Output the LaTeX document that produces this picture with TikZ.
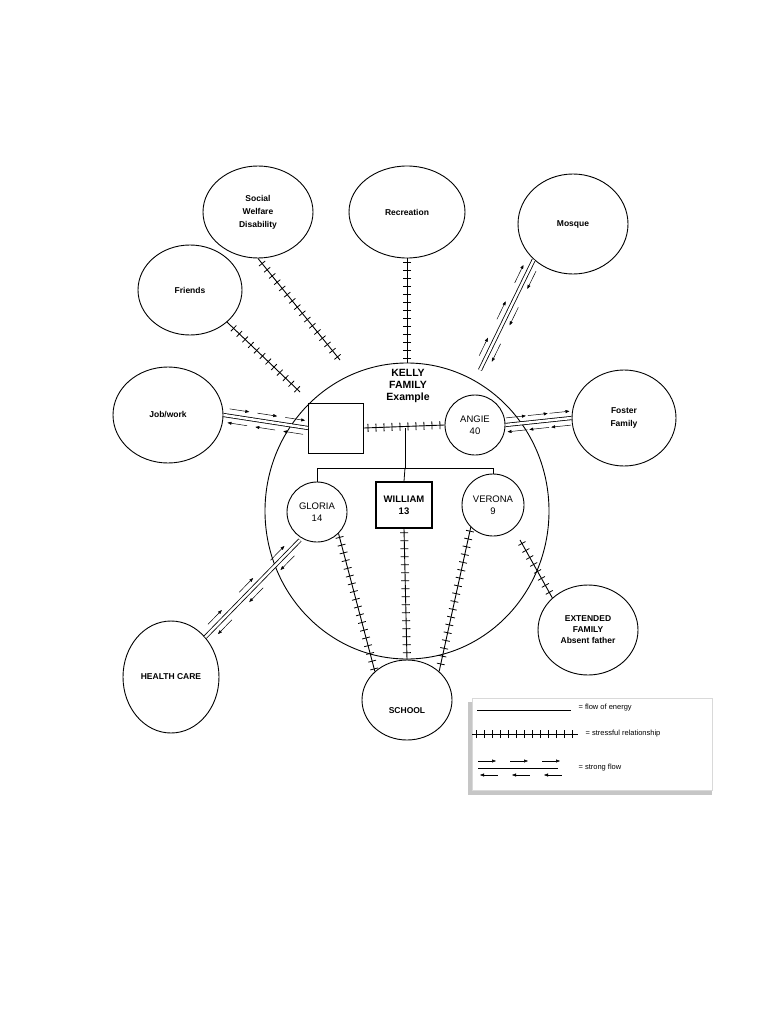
\documentclass[tikz,border=0pt]{standalone}
\usepackage{fontspec}
\setmainfont{Liberation Sans}
\usetikzlibrary{decorations.markings,arrows.meta,shapes.geometric}
\begin{document}
\begin{tikzpicture}[x=1pt,y=-1pt,
  eco/.style={draw,ellipse,inner sep=0pt,line width=0.9pt,font=\bfseries\fontsize{8.5}{11}\selectfont,align=center},
  pers/.style={draw,circle,minimum size=60pt,inner sep=0pt,line width=0.9pt,font=\fontsize{9.5}{12}\selectfont,align=center},
  stress/.style={line width=0.9pt,postaction={decorate},decoration={markings,
     mark=between positions 4pt and -2pt step 8pt with {\draw[line width=0.8pt] (0,-4pt)--(0,4pt);}}},
  strong/.style={double,double distance=2.5pt,line width=0.8pt,postaction={decorate},decoration={markings,
     mark=between positions 0.2 and 0.95 step 0.33 with {\draw[line width=0.5pt,-{Triangle[length=4pt,width=3pt]}] (-12pt,7pt)--(8pt,7pt);
        \draw[line width=0.5pt,{Triangle[length=4pt,width=3pt]}-] (-12pt,-7pt)--(8pt,-7pt);}}}]
\useasboundingbox (0,0) rectangle (768,1024);
\fill[white] (0,0) rectangle (768,1024);
% big circle
\node[draw,ellipse,minimum width=284pt,minimum height=296pt,line width=0.9pt] (fam) at (407,511) {};
\node[font=\bfseries\fontsize{10.5}{12}\selectfont,align=center] (title) at (408,386) {KELLY\\FAMILY\\Example};
% outer systems
\node[eco,minimum width=110pt,minimum height=92pt] (soc) at (258,212) {Social\\[2pt]Welfare\\[2pt]Disability};
\node[eco,minimum width=116pt,minimum height=92pt] (rec) at (407,212) {Recreation};
\node[eco,minimum width=110pt,minimum height=100pt] (mos) at (573,224) {Mosque};
\node[eco,minimum width=104pt,minimum height=90pt] (fri) at (190,290) {Friends};
\node[eco,minimum width=110pt,minimum height=96pt] (job) at (168,415) {Job/work};
\node[eco,minimum width=104pt,minimum height=96pt] (fos) at (624,418) {Foster\\[2pt]Family};
\node[eco,minimum width=96pt,minimum height=112pt] (hea) at (171,677) {HEALTH CARE};
\node[eco,minimum width=90pt,minimum height=80pt] (sch) at (407,700) {\\[16pt]SCHOOL};
\node[eco,minimum width=100pt,minimum height=90pt] (ext) at (588,630) {EXTENDED\\FAMILY\\Absent father};
% family members
\node[draw,line width=1pt,minimum width=55pt,minimum height=50pt] (dad) at (336,428) {};
\node[pers] (ang) at (475,425) {ANGIE\\40};
\node[pers,minimum size=60pt] (glo) at (317,512) {GLORIA\\14};
\node[draw,line width=1.5pt,minimum width=56pt,minimum height=46pt,font=\bfseries\fontsize{9.5}{12}\selectfont,align=center] (wil) at (404,505) {WILLIAM\\13};
\node[pers,minimum size=62pt] (ver) at (493,505) {VERONA\\9};
% family lines
\draw[stress] (dad.east) -- (ang.west);
\coordinate (mid) at (405,428);
\coordinate (bar) at (405,468);
\draw[line width=0.8pt] (mid) -- (bar);
\draw[line width=0.8pt] (glo.north) -- (317,468) -- (493,468) -- (ver.north);
\draw[line width=0.8pt] (bar) -- (wil.north);
% connectors
\coordinate (fs) at (340,360);
\draw[stress] (fs) -- (soc.south);
\draw[stress] (fam.north) -- (rec.south);
\coordinate (fm) at (480,370);
\draw[strong] (fm) -- (mos.south west);
\coordinate (ff) at (300,392);
\draw[stress] (ff) -- (fri.south east);
\draw[strong] (job.east) -- (dad.west);
\draw[strong] (ang.east) -- (fos.west);
\coordinate (fh) at (300,540);
\draw[strong] (fh) -- (hea.north east);
\draw[stress] (glo.south east) -- (sch.north west);
\draw[stress] (wil.south) -- (sch.north);
\draw[stress] (ver.south west) -- (sch.north east);
\coordinate (fe) at (520,540);
\draw[stress] (fe) -- (ext.north west);
% legend
\fill[gray!45] (468,702) rectangle (712,795);
\node[draw=gray!30,fill=white,minimum width=240pt,minimum height=92pt,anchor=north west] (leg) at (472,698) {};
\coordinate (l1a) at (477,710); \coordinate (l1b) at (571,710);
\draw[line width=0.5pt] (l1a) -- (l1b);
\node[anchor=west,font=\fontsize{7.5}{8}\selectfont] (t1) at (575,708) {= flow of energy};
\coordinate (l2a) at (472,734); \coordinate (l2b) at (578,734);
\draw[stress] (l2a) -- (l2b);
\node[anchor=west,font=\fontsize{7.5}{8}\selectfont] (t2) at (582,734) {= stressful relationship};
\coordinate (l3a) at (478,768); \coordinate (l3b) at (558,768);
\draw[line width=1pt] (l3a) -- (l3b);
\foreach \x in {478,510,542}{
  \draw[line width=0.5pt,-{Triangle[length=4pt,width=3pt]}] (\x,761) -- (\x+18,761);
  \draw[line width=0.5pt,{Triangle[length=4pt,width=3pt]}-] (\x+2,775) -- (\x+20,775);}
\node[anchor=west,font=\fontsize{7.5}{8}\selectfont] (t3) at (575,768) {= strong flow};
\end{tikzpicture}
\end{document}
